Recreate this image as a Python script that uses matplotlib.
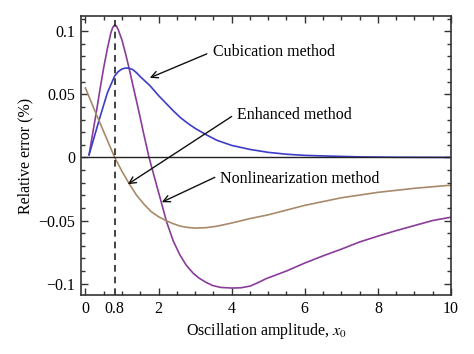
import matplotlib
matplotlib.use('Agg')
import matplotlib.pyplot as plt
import numpy as np
from matplotlib.ticker import MultipleLocator, FixedLocator

# curves
x_nonlin = [0.1, 0.2, 0.3, 0.4, 0.5, 0.6, 0.7, 0.75, 0.8, 0.85, 0.9, 1.0, 1.1, 1.2, 1.3, 1.45,
            1.6, 1.74, 1.9, 2.08, 2.22, 2.4, 2.58, 2.76, 2.94, 3.1, 3.3, 3.48, 3.7, 4.0, 4.25,
            4.5, 4.7, 4.95, 5.5, 6.0, 6.5, 7.0, 7.5, 8.0, 8.5, 9.0, 9.5, 10.0]
y_nonlin = [0.002, 0.019, 0.036, 0.054, 0.071, 0.086, 0.099, 0.103, 0.105, 0.104, 0.101,
            0.093, 0.082, 0.07, 0.057, 0.038, 0.018, 0.0, -0.017, -0.036, -0.051, -0.066,
            -0.077, -0.0855, -0.0915, -0.0955, -0.099, -0.1015, -0.103, -0.1035, -0.1033,
            -0.102, -0.0995, -0.096, -0.09, -0.0837, -0.078, -0.0727, -0.067, -0.0624, -0.058,
            -0.054, -0.050, -0.0474]

x_cubic = [0.1, 0.25, 0.4, 0.6, 0.8, 0.9, 1.0, 1.1, 1.2, 1.3, 1.4, 1.5, 1.76, 2.0, 2.2, 2.4,
           2.6, 2.8, 3.0, 3.3, 3.6, 4.0, 4.5, 5.0, 5.5, 6.0, 6.7, 7.5, 8.5, 10.0]
y_cubic = [0.002, 0.017, 0.032, 0.051, 0.0645, 0.068, 0.070, 0.0708, 0.0706, 0.0695, 0.067,
           0.064, 0.057, 0.049, 0.043, 0.037, 0.0315, 0.027, 0.023, 0.018, 0.0135, 0.0095,
           0.0063, 0.004, 0.0025, 0.0016, 0.001, 0.0004, 0.0001, 0.0]

x_enh = [0.0, 0.3, 0.55, 0.8, 1.0, 1.2, 1.4, 1.6, 1.8, 2.0, 2.2, 2.4, 2.6, 2.8, 3.0, 3.3, 3.6,
         4.0, 4.5, 5.0, 6.0, 7.0, 8.0, 9.0, 10.0]
y_enh = [0.055, 0.034, 0.017, 0.0, -0.011, -0.021, -0.030, -0.037, -0.043, -0.047, -0.050,
         -0.0525, -0.0545, -0.0555, -0.056, -0.0557, -0.0545, -0.052, -0.0485, -0.0455,
         -0.038, -0.032, -0.0277, -0.0245, -0.022]

x_tick_values = [0, 0.8, 2, 4, 6, 8, 10]
x_tick_labels = ['0', '0.8', '2', '4', '6', '8', '10']
y_tick_values = [-0.1, -0.05, 0, 0.05, 0.1]
y_tick_labels = ['\u22120.1', '\u22120.05', '0', '0.05', '0.1']

plt.rcParams['font.family'] = ['Liberation Serif', 'DejaVu Serif']
plt.rcParams['mathtext.fontset'] = 'stix'

fig = plt.figure(figsize=(4.74, 3.54), dpi=100)
ax = fig.add_axes((0.1709, 0.1667, 0.9515 - 0.1709, 0.9548 - 0.1667))

ax.plot(x_nonlin, y_nonlin, color='#8a3c9a', lw=1.2)
ax.plot(x_cubic, y_cubic, color='#3c3cc8', lw=1.2)
ax.plot(x_enh, y_enh, color='#a88a6a', lw=1.2)
ax.axhline(0, color='#222222', lw=1.0)
ax.axvline(0.8, color='#222222', lw=1.2, ls=(0, (4, 3)))

ax.set_xlim(-0.12, 10)
ax.set_ylim(-0.109, 0.112)

ax.xaxis.set_major_locator(FixedLocator(x_tick_values))
ax.set_xticklabels(x_tick_labels)
ax.xaxis.set_minor_locator(MultipleLocator(0.5))
ax.set_yticks(y_tick_values)
ax.set_yticklabels(y_tick_labels)
ax.yaxis.set_minor_locator(MultipleLocator(0.01))
ax.tick_params(which='both', direction='in', top=True, right=True, labelsize=11.5,
               color='#333333', width=1.0)
ax.tick_params(which='major', length=5, pad=4)
ax.tick_params(which='minor', length=3)
# the 0.8 label carries no tick mark of its own
ax.xaxis.get_major_ticks()[1].tick1line.set_visible(False)
ax.xaxis.get_major_ticks()[1].tick2line.set_visible(False)
for s in ax.spines.values():
    s.set_linewidth(1.2)
    s.set_color('#333333')

ax.set_xlabel('Oscillation amplitude, $x_0$', fontsize=11.5, labelpad=3)
ax.set_ylabel('Relative error (%)', fontsize=11.5, labelpad=4)

arrow = dict(arrowstyle='->', color='#111111', lw=1.0, shrinkA=0, shrinkB=0,
             mutation_scale=12)
ax.text(3.48, 0.0837, 'Cubication method', fontsize=11.5, ha='left', va='center')
ax.annotate('', xy=(1.76, 0.063), xytext=(3.32, 0.082), arrowprops=arrow)
ax.text(4.16, 0.0332, 'Enhanced method', fontsize=11.5, ha='left', va='center')
ax.annotate('', xy=(1.16, -0.0213), xytext=(4.0, 0.0324), arrowprops=arrow)
ax.text(3.67, -0.0174, 'Nonlinearization method', fontsize=11.5, ha='left', va='center')
ax.annotate('', xy=(2.09, -0.0355), xytext=(3.54, -0.0158), arrowprops=arrow)

fig.savefig('out.png', dpi=100)
